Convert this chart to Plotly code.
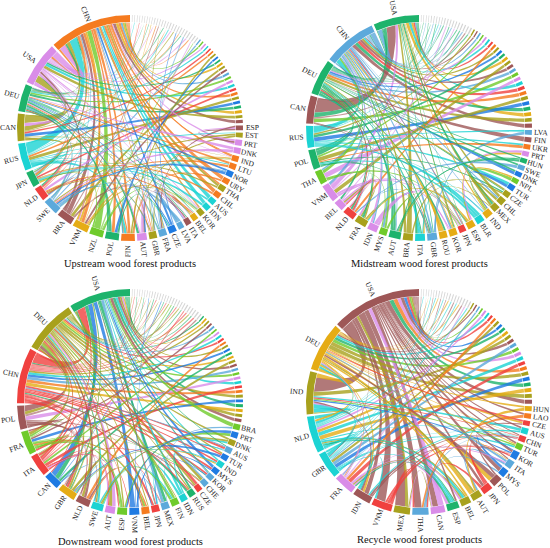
import numpy as np
import plotly.graph_objects as go

# palette
ORANGE = "#f57b20"
VIOLET = "#d98ce8"
GREEN = "#1eb36c"
OLIVE = "#a8a11d"
CYAN = "#1cd3d3"
RED = "#f0413f"
STEEL = "#5ca9db"
BROWN = "#9e5757"
GOLD = "#e5ac15"
LIME = "#6fcb2b"
BLUE = "#1f7be2"
GREY = "#d4d4d4"
TAIL_PAL = [BROWN, OLIVE, GOLD, GREEN, BLUE, OLIVE, ORANGE, RED, CYAN, VIOLET, LIME, STEEL]

# ---------------- Upstream ----------------
up_names = ["CHN", "USA", "DEU", "CAN", "RUS", "JPN", "NLD", "SWE", "BRA", "VNM", "NZL", "POL", "FIN",
            "AUT", "GBR", "FRA", "CZE", "LVA", "ITA", "BEL", "KOR", "IDN", "AUS", "CHL", "THA", "URY",
            "NOR", "LTU", "IND", "DNK", "PRT", "EST", "ESP"]
up_sizes = [42, 22, 14, 14, 14, 8, 7, 8, 8, 8, 7, 7, 7, 5, 4, 4, 4, 3, 3, 3, 3, 3, 3, 3, 3, 3,
            3, 3, 3, 3, 3, 2.5, 2.5]
up_colors = [ORANGE, VIOLET, GREEN, OLIVE, CYAN, GREEN, RED, STEEL, BROWN, GOLD, LIME, GREEN, ORANGE,
             VIOLET, OLIVE, STEEL, BLUE, STEEL, BROWN, GOLD, OLIVE, CYAN, CYAN, ORANGE, OLIVE, ORANGE,
             BLUE, ORANGE, ORANGE, VIOLET, VIOLET, OLIVE, BROWN]
up_links = [
    ("RUS", "CHN", 9), ("NZL", "CHN", 5), ("USA", "CHN", 7), ("CAN", "CHN", 4), ("BRA", "CHN", 3),
    ("VNM", "CHN", 2), ("AUS", "CHN", 2), ("CHL", "CHN", 2), ("URY", "CHN", 2), ("THA", "CHN", 1.5),
    ("IDN", "CHN", 1.5), ("DEU", "CHN", 2), ("CZE", "CHN", 2), ("SWE", "CHN", 1), ("FRA", "CHN", 1),
    ("PRT", "CHN", 1), ("CHN", "JPN", 3), ("CHN", "VNM", 3), ("CHN", "KOR", 2), ("CHN", "USA", 2),
    ("CHN", "FIN", 3), ("CHN", "POL", 2), ("CHN", "IND", 2), ("CHN", "THA", 1), ("CAN", "USA", 7),
    ("USA", "CAN", 3), ("CAN", "JPN", 2), ("USA", "JPN", 2), ("USA", "DEU", 1), ("USA", "KOR", 1.5),
    ("USA", "VNM", 1), ("DEU", "AUT", 2), ("DEU", "NLD", 1.5), ("DEU", "POL", 1), ("CZE", "DEU", 1),
    ("POL", "DEU", 2), ("FRA", "DEU", 1), ("RUS", "FIN", 3), ("RUS", "JPN", 1.5), ("RUS", "DEU", 1),
    ("SWE", "DEU", 1.5), ("SWE", "FIN", 2), ("SWE", "NLD", 1), ("LVA", "SWE", 1), ("LVA", "GBR", 1),
    ("EST", "FIN", 1), ("LTU", "SWE", 1), ("NOR", "SWE", 1.5), ("BRA", "USA", 2), ("BRA", "NLD", 1),
    ("VNM", "JPN", 2), ("VNM", "KOR", 1), ("NZL", "KOR", 1.5), ("NZL", "JPN", 1), ("AUT", "ITA", 1.5),
    ("AUT", "DEU", 1), ("FRA", "ITA", 1), ("FRA", "BEL", 1), ("BEL", "NLD", 1), ("NLD", "DEU", 1.5),
    ("NLD", "BEL", 1), ("JPN", "CHN", 1), ("JPN", "KOR", 1), ("KOR", "CHN", 1), ("IDN", "JPN", 1),
    ("IND", "CHN", 1), ("ESP", "PRT", 1), ("PRT", "ESP", 1), ("DNK", "SWE", 1), ("DNK", "DEU", 1),
    ("ITA", "AUT", 1), ("GBR", "NLD", 1), ("GBR", "IND", 1), ("URY", "FIN", 1), ("THA", "JPN", 1),
    ("CHL", "JPN", 1), ("AUS", "JPN", 1), ("FIN", "DEU", 1.5), ("FIN", "GBR", 1), ("POL", "CZE", 1),
    ("NOR", "DEU", 1), ("EST", "SWE", 1), ("LTU", "DEU", 1), ("IND", "VNM", 0.8), ("KOR", "VNM", 0.8),
    ("BEL", "FRA", 0.8), ("ESP", "FRA", 1), ("CZE", "AUT", 1), ("DEU", "BEL", 1),
    ("DEU", "JPN", 0.6), ("DEU", "KOR", 0.6), ("DEU", "ITA", 0.6), ("DEU", "FRA", 0.6), ("DEU", "SWE", 0.6),
    ("RUS", "KOR", 0.6), ("RUS", "CZE", 0.6), ("RUS", "LTU", 0.6), ("RUS", "EST", 0.6), ("CAN", "KOR", 0.6),
    ("CAN", "DEU", 0.6), ("CAN", "IND", 0.6), ("USA", "ITA", 0.6), ("USA", "IND", 0.6), ("USA", "NLD", 0.6),
    ("USA", "GBR", 0.6), ("BRA", "ITA", 0.6), ("BRA", "BEL", 0.6), ("NZL", "IND", 0.6), ("NZL", "VNM", 0.6),
    ("POL", "SWE", 0.6), ("POL", "FIN", 0.6), ("FIN", "NLD", 0.6), ("SWE", "GBR", 0.6), ("SWE", "NOR", 0.6),
    ("JPN", "USA", 0.6), ("VNM", "IND", 0.6), ("CHN", "DEU", 0.6), ("CHN", "NLD", 0.6), ("CHN", "GBR", 0.6),
]
up_tail_val = [1.6, 1.5, 1.5, 1.4, 1.4, 1.3, 1.3, 1.2, 1.2, 1.2, 1.1, 1.1, 1.0, 1.0, 1.0, 0.9, 0.9,
               0.9, 0.8, 0.8, 0.7, 0.7, 0.7, 0.7, 0.6, 0.6, 0.6, 0.6, 0.6, 0.5, 0.5, 0.5, 0.5, 0.5,
               0.5, 0.4, 0.4, 0.4, 0.4, 0.4, 0.4, 0.3, 0.3, 0.3, 0.3, 0.3, 0.3, 0.3, 0.3, 0.3]
up_tail_partner = ("CHN USA CHN DEU CAN RUS CHN JPN USA NLD DEU CHN VNM BRA CHN USA POL FIN RUS CAN "
                   "DEU USA CHN SWE NZL AUT CHN USA FRA DEU CHN CZE CAN USA RUS CHN DEU GBR BRA CHN "
                   "USA VNM JPN CHN DEU USA NLD CHN RUS USA").split()

# ---------------- Midstream ----------------
mid_names = ["USA", "CHN", "DEU", "CAN", "RUS", "POL", "THA", "VNM", "BEL", "NLD", "FRA", "IDN", "MYS",
             "AUT", "BRA", "ITA", "GBR", "ROU", "KOR", "JPN", "ESP", "BLR", "IND", "MEX", "CHL", "CZE",
             "TUR", "NPL", "DNK", "SWE", "HUN", "PRT", "UKR", "FIN", "LVA"]
mid_sizes = [23, 27, 18, 14, 11, 10, 7, 9, 5, 6, 6, 5, 4, 6, 5, 5, 5, 4, 4, 3.5, 4, 4, 4, 3.5, 3.5, 3,
             3, 2.5, 2.5, 2.5, 2.5, 2.5, 2.5, 2.5, 2.5]
mid_colors = [GREEN, STEEL, GREEN, BROWN, CYAN, GREEN, LIME, VIOLET, VIOLET, RED, OLIVE, VIOLET, LIME,
              GREEN, OLIVE, CYAN, STEEL, GOLD, GOLD, RED, GOLD, CYAN, GOLD, OLIVE, OLIVE, OLIVE,
              BLUE, LIME, BLUE, STEEL, GREEN, VIOLET, ORANGE, BROWN, STEEL]
mid_links = [
    ("CAN", "USA", 12), ("CHN", "USA", 6), ("USA", "CAN", 4), ("CHN", "JPN", 2), ("CHN", "KOR", 2),
    ("CHN", "VNM", 2), ("CHN", "DEU", 1.5), ("CHN", "GBR", 1.5), ("CHN", "MYS", 1), ("CHN", "IND", 1),
    ("CHN", "THA", 1), ("RUS", "CHN", 5), ("RUS", "DEU", 1), ("RUS", "TUR", 1), ("RUS", "BLR", 1),
    ("DEU", "AUT", 2), ("DEU", "POL", 2), ("DEU", "NLD", 2), ("DEU", "FRA", 1.5), ("DEU", "BEL", 1.5),
    ("DEU", "CZE", 1), ("DEU", "USA", 1.5), ("DEU", "GBR", 1), ("POL", "DEU", 4), ("POL", "CZE", 1),
    ("POL", "GBR", 1), ("THA", "CHN", 2), ("THA", "JPN", 1.5), ("VNM", "USA", 3), ("VNM", "JPN", 1.5),
    ("VNM", "KOR", 1.5), ("BEL", "FRA", 1.5), ("BEL", "NLD", 1.5), ("NLD", "DEU", 2), ("NLD", "BEL", 1),
    ("FRA", "DEU", 1), ("FRA", "ESP", 1), ("FRA", "BEL", 1), ("IDN", "JPN", 1.5), ("IDN", "CHN", 1),
    ("IDN", "KOR", 1), ("MYS", "JPN", 1), ("MYS", "CHN", 1), ("AUT", "DEU", 2), ("AUT", "ITA", 1.5),
    ("BRA", "USA", 2), ("BRA", "CHN", 1), ("ITA", "FRA", 1), ("ITA", "DEU", 1), ("GBR", "IND", 1),
    ("ROU", "DEU", 1), ("ROU", "ITA", 1), ("KOR", "CHN", 1), ("KOR", "USA", 1), ("JPN", "CHN", 1),
    ("ESP", "FRA", 1), ("ESP", "PRT", 1), ("BLR", "POL", 1), ("BLR", "RUS", 1), ("IND", "USA", 1),
    ("MEX", "USA", 1.5), ("CHL", "USA", 1), ("CHL", "MEX", 1), ("CZE", "DEU", 1), ("CZE", "AUT", 1),
    ("TUR", "IND", 1), ("NPL", "IND", 1), ("DNK", "DEU", 1), ("SWE", "NLD", 1), ("HUN", "AUT", 1),
    ("PRT", "ESP", 1), ("UKR", "POL", 1), ("FIN", "DEU", 1), ("LVA", "GBR", 1), ("USA", "MEX", 1.5),
    ("USA", "CHN", 1), ("USA", "KOR", 1),
    ("USA", "JPN", 0.6), ("USA", "GBR", 0.6), ("USA", "DEU", 0.6), ("CHN", "AUT", 0.6), ("CHN", "NLD", 0.6),
    ("CHN", "IDN", 0.6), ("CHN", "CHL", 0.6), ("DEU", "ITA", 0.6), ("DEU", "DNK", 0.6), ("DEU", "SWE", 0.6),
    ("DEU", "HUN", 0.6), ("DEU", "ROU", 0.6), ("CAN", "CHN", 0.6), ("CAN", "JPN", 0.6), ("CAN", "GBR", 0.6),
    ("RUS", "UKR", 0.6), ("RUS", "IND", 0.6), ("RUS", "LVA", 0.6), ("POL", "NLD", 0.6), ("POL", "FRA", 0.6),
    ("THA", "MYS", 0.6), ("VNM", "CHN", 0.6), ("BRA", "MEX", 0.6), ("AUT", "HUN", 0.6), ("ITA", "ESP", 0.6),
    ("GBR", "NLD", 0.6), ("KOR", "JPN", 0.6), ("IND", "NPL", 0.6),
]
mid_tail_val = [2.0, 1.9, 1.9, 1.8, 1.8, 1.7, 1.7, 1.6, 1.6, 1.5, 1.5, 1.4, 1.4, 1.3, 1.3, 1.2, 1.2,
                1.1, 1.1, 1.0, 1.0, 0.9, 0.8, 0.8, 0.7, 0.7, 0.7, 0.6, 0.6, 0.6, 0.6, 0.5, 0.5, 0.5,
                0.5, 0.5, 0.4, 0.4, 0.4, 0.4, 0.4, 0.3, 0.3, 0.3, 0.3]
mid_tail_partner = ("CHN DEU USA CHN RUS POL DEU CHN USA THA CAN DEU CHN VNM USA RUS DEU CHN NLD USA "
                    "CHN DEU POL USA CHN RUS DEU CAN CHN USA DEU VNM CHN USA BEL DEU CHN RUS USA CHN "
                    "DEU USA CHN POL DEU").split()

# ---------------- Downstream ----------------
down_names = ["USA", "DEU", "CHN", "POL", "FRA", "ITA", "CAN", "GBR", "NLD", "SWE", "AUT", "ESP", "VNM",
              "BEL", "JPN", "MEX", "FIN", "IDN", "RUS", "CZE", "CHE", "KOR", "MYS", "IND", "TUR", "AUS",
              "DNK", "PRT", "BRA"]
down_sizes = [31, 27, 28, 12, 12, 11, 8, 9, 7, 6, 5, 5, 5, 4, 4, 4, 4, 3.5, 3.5, 3, 3, 3, 3, 3, 3, 3,
              3, 3, 3]
down_colors = [GREEN, OLIVE, RED, BROWN, LIME, RED, BLUE, GOLD, BROWN, CYAN, VIOLET, LIME, BLUE,
               ORANGE, RED, STEEL, LIME, CYAN, GREEN, RED, STEEL, STEEL, BLUE, CYAN, BLUE, STEEL,
               OLIVE, BLUE, LIME]
down_links = [
    ("CHN", "USA", 8), ("CAN", "USA", 5), ("VNM", "USA", 4), ("MEX", "USA", 3), ("ITA", "USA", 1.5),
    ("DEU", "USA", 2), ("CHN", "DEU", 2), ("CHN", "JPN", 2), ("CHN", "GBR", 2), ("CHN", "KOR", 1.5),
    ("CHN", "AUS", 1.5), ("CHN", "FRA", 1), ("CHN", "CAN", 1), ("CHN", "IND", 1), ("CHN", "MYS", 1),
    ("POL", "DEU", 4), ("POL", "FRA", 1.5), ("POL", "GBR", 1.5), ("POL", "NLD", 1), ("DEU", "FRA", 3),
    ("DEU", "AUT", 2), ("DEU", "CHE", 2), ("DEU", "NLD", 2), ("DEU", "POL", 2), ("DEU", "GBR", 2),
    ("DEU", "BEL", 1.5), ("DEU", "DNK", 1), ("DEU", "CZE", 1), ("DEU", "ITA", 1), ("DEU", "SWE", 1),
    ("DEU", "ESP", 1), ("FRA", "DEU", 2), ("FRA", "BEL", 2), ("FRA", "ESP", 1), ("FRA", "ITA", 1),
    ("ITA", "FRA", 2), ("ITA", "DEU", 2), ("ITA", "GBR", 1), ("ITA", "ESP", 1), ("USA", "CAN", 4),
    ("USA", "MEX", 3), ("USA", "CHN", 1), ("USA", "GBR", 1), ("USA", "JPN", 1), ("GBR", "IND", 0.8),
    ("NLD", "DEU", 2), ("NLD", "BEL", 1.5), ("SWE", "DNK", 1), ("SWE", "DEU", 1.5), ("SWE", "GBR", 1),
    ("AUT", "DEU", 2), ("AUT", "ITA", 1), ("ESP", "FRA", 1.5), ("ESP", "PRT", 1), ("VNM", "JPN", 1),
    ("BEL", "FRA", 1.5), ("BEL", "NLD", 1), ("JPN", "USA", 0.8), ("MEX", "CAN", 0.8), ("FIN", "DEU", 1),
    ("FIN", "SWE", 1), ("IDN", "JPN", 1), ("IDN", "USA", 1), ("RUS", "CHN", 1), ("RUS", "KOR", 1),
    ("CZE", "DEU", 1.5), ("CHE", "DEU", 1), ("KOR", "USA", 1), ("MYS", "USA", 1.5), ("IND", "USA", 1),
    ("TUR", "GBR", 1), ("AUS", "CHN", 0.8), ("DNK", "SWE", 1), ("PRT", "ESP", 1), ("BRA", "USA", 1.5),
    ("USA", "KOR", 0.6), ("USA", "AUS", 0.6), ("USA", "DEU", 0.6), ("CHN", "VNM", 0.6), ("CHN", "MEX", 0.6),
    ("CHN", "NLD", 0.6), ("CHN", "RUS", 0.6), ("CHN", "TUR", 0.6), ("DEU", "RUS", 0.6), ("DEU", "FIN", 0.6),
    ("DEU", "TUR", 0.6), ("POL", "CZE", 0.6), ("POL", "SWE", 0.6), ("FRA", "GBR", 0.6), ("FRA", "CHE", 0.6),
    ("ITA", "CHE", 0.6), ("ITA", "AUT", 0.6), ("CAN", "GBR", 0.6), ("GBR", "USA", 0.6), ("NLD", "GBR", 0.6),
    ("SWE", "FIN", 0.6), ("VNM", "KOR", 0.6), ("VNM", "AUS", 0.6), ("MEX", "BRA", 0.6), ("MYS", "JPN", 0.6),
    ("IDN", "AUS", 0.6), ("IND", "GBR", 0.6),
]
down_tail_val = [1.6, 1.5, 1.5, 1.5, 1.4, 1.4, 1.4, 1.3, 1.3, 1.3, 1.2, 1.2, 1.2, 1.2, 1.1, 1.1, 1.1,
                 1.0, 1.0, 1.0, 1.0, 0.9, 0.9, 0.9, 0.9, 0.8, 0.8, 0.7, 0.7, 0.7, 0.6, 0.6, 0.6, 0.6,
                 0.5, 0.5, 0.5, 0.5, 0.5, 0.5, 0.4, 0.4, 0.4, 0.4, 0.4, 0.4, 0.4, 0.3, 0.3, 0.3, 0.3,
                 0.3, 0.3, 0.3, 0.3]
down_tail_partner = ("USA DEU CHN USA FRA DEU CHN ITA USA POL DEU CHN USA GBR DEU CAN CHN USA NLD DEU "
                     "CHN USA ITA DEU FRA CHN USA DEU POL CHN USA DEU CHN ITA USA DEU CHN USA FRA DEU "
                     "CHN USA CAN DEU CHN USA DEU VNM CHN USA DEU CHN USA ITA DEU").split()

# ---------------- Recycle ----------------
rec_names = ["USA", "DEU", "IND", "NLD", "GBR", "FRA", "IDN", "VNM", "MEX", "THA", "CAN", "ESP", "BEL",
             "AUT", "JPN", "POL", "MYS", "ITA", "KOR", "TUR", "CHN", "AUS", "CZE", "LAO", "HUN"]
rec_sizes = [44, 24, 21, 18, 13, 10, 9, 10, 8, 8, 7, 6, 5, 5, 5, 5, 4, 4, 4, 3, 3, 3, 2.5, 2.5, 2.5]
rec_colors = [BROWN, GOLD, OLIVE, CYAN, CYAN, VIOLET, BROWN, RED, OLIVE, STEEL, VIOLET, GREEN, OLIVE,
              OLIVE, RED, BROWN, BLUE, STEEL, BLUE, LIME, RED, CYAN, RED, ORANGE, GOLD]
rec_links = [
    ("USA", "IND", 10), ("USA", "MEX", 6), ("USA", "THA", 4), ("USA", "VNM", 3), ("USA", "CAN", 3),
    ("USA", "IDN", 2), ("USA", "KOR", 2), ("USA", "MYS", 1.5), ("USA", "CHN", 1.5), ("USA", "TUR", 1),
    ("USA", "ESP", 1), ("USA", "JPN", 1), ("DEU", "IND", 3), ("DEU", "NLD", 2), ("DEU", "AUT", 2),
    ("DEU", "POL", 1.5), ("DEU", "BEL", 1.5), ("DEU", "CZE", 1), ("DEU", "FRA", 1), ("DEU", "IDN", 1),
    ("NLD", "IND", 3), ("NLD", "BEL", 2), ("NLD", "DEU", 2), ("NLD", "ESP", 1), ("NLD", "CHN", 1),
    ("GBR", "IND", 3), ("GBR", "NLD", 2), ("GBR", "ESP", 1), ("GBR", "TUR", 1), ("GBR", "IDN", 1),
    ("GBR", "DEU", 1), ("FRA", "BEL", 1.5), ("FRA", "ESP", 1.5), ("FRA", "DEU", 1), ("FRA", "IND", 1),
    ("IDN", "CHN", 1), ("IDN", "IND", 1), ("VNM", "KOR", 1), ("VNM", "THA", 1), ("MEX", "USA", 2),
    ("THA", "CHN", 1), ("CAN", "USA", 3), ("ESP", "FRA", 1), ("BEL", "NLD", 1), ("BEL", "FRA", 1),
    ("AUT", "DEU", 1), ("JPN", "KOR", 1), ("JPN", "THA", 1), ("POL", "DEU", 1.5), ("MYS", "CHN", 1),
    ("ITA", "DEU", 1), ("ITA", "AUT", 1), ("KOR", "IND", 1), ("TUR", "IND", 0.8), ("CHN", "IND", 0.8),
    ("AUS", "IND", 1), ("CZE", "DEU", 1), ("LAO", "THA", 1), ("HUN", "AUT", 1),
    ("USA", "DEU", 0.6), ("USA", "GBR", 0.6), ("USA", "ITA", 0.6), ("USA", "AUS", 0.6), ("USA", "LAO", 0.6),
    ("DEU", "CHN", 0.6), ("DEU", "ITA", 0.6), ("DEU", "HUN", 0.6), ("DEU", "TUR", 0.6), ("IND", "NLD", 0.6),
    ("NLD", "GBR", 0.6), ("NLD", "FRA", 0.6), ("NLD", "IDN", 0.6), ("GBR", "FRA", 0.6), ("GBR", "VNM", 0.6),
    ("GBR", "CHN", 0.6), ("FRA", "ITA", 0.6), ("FRA", "GBR", 0.6), ("IDN", "KOR", 0.6), ("VNM", "CHN", 0.6),
    ("MEX", "CAN", 0.6), ("THA", "MYS", 0.6), ("CAN", "MEX", 0.6), ("ESP", "NLD", 0.6), ("JPN", "CHN", 0.6),
    ("POL", "CZE", 0.6), ("KOR", "CHN", 0.6), ("AUS", "IDN", 0.6),
]
rec_tail_val = [2.0, 1.9, 1.9, 1.8, 1.8, 1.7, 1.7, 1.6, 1.6, 1.5, 1.5, 1.5, 1.4, 1.4, 1.3, 1.3, 1.2,
                1.2, 1.1, 1.1, 1.0, 1.0, 0.8, 0.7, 0.7, 0.7, 0.6, 0.6, 0.6, 0.5, 0.5, 0.5, 0.5, 0.5,
                0.4, 0.4, 0.4, 0.4, 0.4, 0.3, 0.3, 0.3, 0.3, 0.3, 0.3]
rec_tail_partner = ("USA DEU NLD USA GBR DEU USA FRA NLD USA DEU GBR USA IND NLD DEU USA GBR FRA USA "
                    "DEU NLD USA GBR DEU USA NLD FRA USA DEU GBR USA NLD DEU USA GBR USA DEU NLD USA "
                    "GBR DEU USA NLD USA").split()

# geometry (pixels)
R_OUT, R_IN, R_LINK = 113, 106, 105.5
GAP, GAP_TAIL = 1.2, 1.0
BEND = 0.3
ALPHA = 0.8
ALPHA_PALE = 0.6    # ribbons into the grey (smallest) countries
TAIL_W = 2.0        # weight of a tail ribbon at its big-country end
LABEL_R = R_OUT + 9.5
FONT = "Liberation Serif"


def polar(cx, cy, r, deg):
    t = np.radians(deg)
    return cx + r * np.cos(t), cy - r * np.sin(t)


def arc(cx, cy, r, a0, a1):
    n = max(3, int(abs(a1 - a0) / 0.8) + 2)
    return polar(cx, cy, r, np.linspace(a0, a1, n))


def bezier(cx, cy, x0, y0, x2, y2, n=30):
    qx = cx + ((x0 + x2) / 2 - cx) * BEND
    qy = cy + ((y0 + y2) / 2 - cy) * BEND
    s = np.linspace(0, 1, n)
    return ((1 - s) ** 2 * x0 + 2 * (1 - s) * s * qx + s ** 2 * x2,
            (1 - s) ** 2 * y0 + 2 * (1 - s) * s * qy + s ** 2 * y2)


def rgba(hex_col, a):
    h = hex_col.lstrip("#")
    return f"rgba({int(h[0:2], 16)},{int(h[2:4], 16)},{int(h[4:6], 16)},{a})"


def add_chord(fig, cx, cy, names, sizes, colors, links, tail_val, tail_partner, n_colored, title, ty):
    n = len(names)
    nt = len(tail_val)
    vals = list(sizes) + list(tail_val)
    cols = list(colors) + [TAIL_PAL[i % len(TAIL_PAL)] if i < n_colored else GREY for i in range(nt)]
    gaps = [GAP] * n + [GAP_TAIL] * nt
    k = (360 - sum(gaps)) / sum(vals)

    starts, a = [], 90.0
    for v, g in zip(vals, gaps):
        starts.append(a)
        a += v * k + g
    centers = [s + v * k / 2 for s, v in zip(starts, vals)]

    idx = {nm: i for i, nm in enumerate(names)}
    # (source, target, weight, alpha); coloured small countries export, grey ones import
    all_links = [(idx[s], idx[d], w, ALPHA) for s, d, w in links]
    for i, (v, p) in enumerate(zip(tail_val, tail_partner)):
        if i < n_colored:
            all_links.append((n + i, idx[p], v * TAIL_W, ALPHA))
        else:
            all_links.append((idx[p], n + i, v * TAIL_W, ALPHA_PALE))

    ends = {i: [] for i in range(len(vals))}
    for li, (s, d, w, _) in enumerate(all_links):
        ends[s].append((li, 0, w, d))
        ends[d].append((li, 1, w, s))

    pos = {}
    for i, lst in ends.items():
        if not lst:
            continue
        tot = sum(e[2] for e in lst)
        lst.sort(key=lambda e: (-((centers[e[3]] - centers[i]) % 360), e[0]))
        a = starts[i]
        for li, side, w, _ in lst:
            span = vals[i] * k * w / tot
            pos[(li, side)] = (a, a + span)
            a += span

    # ribbons, widest first so thin ones sit on top
    order = sorted(range(len(all_links)), key=lambda li: -all_links[li][2])
    for li in order:
        s, _, _, alpha = all_links[li]
        s0, s1 = pos[(li, 0)]
        t0, t1 = pos[(li, 1)]
        ax, ay = arc(cx, cy, R_LINK, s0, s1)
        bx, by = arc(cx, cy, R_LINK, t0, t1)
        c1x, c1y = bezier(cx, cy, ax[-1], ay[-1], bx[0], by[0])
        c2x, c2y = bezier(cx, cy, bx[-1], by[-1], ax[0], ay[0])
        xs = np.concatenate([ax, c1x, bx, c2x])
        ys = np.concatenate([ay, c1y, by, c2y])
        fig.add_trace(go.Scatter(x=xs, y=ys, mode="lines", fill="toself",
                                 fillcolor=rgba(cols[s], alpha), line=dict(width=0),
                                 hoverinfo="skip", showlegend=False))

    # outer track, one trace per colour
    by_col = {}
    for i in range(len(vals)):
        a0, a1 = starts[i], starts[i] + vals[i] * k
        ox, oy = arc(cx, cy, R_OUT, a0, a1)
        ix, iy = arc(cx, cy, R_IN, a1, a0)
        xs, ys = by_col.setdefault(cols[i], ([], []))
        xs.extend(list(ox) + list(ix) + [None])
        ys.extend(list(oy) + list(iy) + [None])
    for col, (xs, ys) in by_col.items():
        fig.add_trace(go.Scatter(x=xs, y=ys, mode="lines", fill="toself", fillcolor=col,
                                 line=dict(width=0), hoverinfo="skip", showlegend=False))

    # sector labels, radial
    for i, nm in enumerate(names):
        th = centers[i]
        lx, ly = polar(cx, cy, LABEL_R, th)
        ang = -th if np.cos(np.radians(th)) >= 0 else 180 - th
        ang = ((ang + 180) % 360) - 180
        fig.add_annotation(x=lx, y=ly, text=nm, showarrow=False, textangle=ang,
                           xanchor="center", yanchor="middle",
                           font=dict(family=FONT, size=7.5, color="#222222"))

    fig.add_annotation(x=cx, y=ty, text=title, showarrow=False, xanchor="center", yanchor="middle",
                       font=dict(family=FONT, size=10.5, color="#111111"))


fig = go.Figure()
add_chord(fig, 130, 128, up_names, up_sizes, up_colors, up_links, up_tail_val, up_tail_partner, 24,
          "Upstream wood forest products", 263)
add_chord(fig, 419, 128, mid_names, mid_sizes, mid_colors, mid_links, mid_tail_val, mid_tail_partner, 26,
          "Midstream wood forest products", 263)
add_chord(fig, 130, 402, down_names, down_sizes, down_colors, down_links, down_tail_val, down_tail_partner,
          28, "Downstream wood forest products", 541)
add_chord(fig, 419, 402, rec_names, rec_sizes, rec_colors, rec_links, rec_tail_val, rec_tail_partner, 26,
          "Recycle wood forest products", 539)

fig.update_xaxes(range=[0, 550], visible=False, fixedrange=True)
fig.update_yaxes(range=[548, 0], visible=False, fixedrange=True)
fig.update_layout(width=550, height=548, margin=dict(l=0, r=0, t=0, b=0),
                  paper_bgcolor="white", plot_bgcolor="white")
# drop the default page margin so the figure sits at the window's top-left corner
fig.write_html("out.html", config={"displayModeBar": False},
               post_script="document.body.style.margin='0px';")
